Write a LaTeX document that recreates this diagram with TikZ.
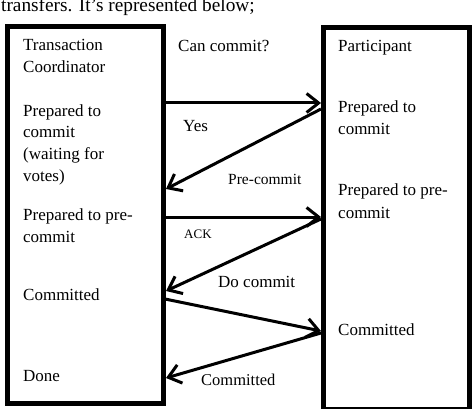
\documentclass[tikz,border=0pt]{standalone}
\usepackage{fontspec}
\setmainfont{Liberation Serif}
\usetikzlibrary{arrows.meta}

\begin{document}
\begin{tikzpicture}[x=1pt, y=-1pt,
	box/.style={line width=5pt},
	msg/.style={line width=3pt, -{Straight Barb[length=12pt, width=19pt, line width=3pt]}},
	txt/.style={anchor=base west, inner sep=0pt, align=left, font=\fontsize{17}{22}\selectfont}]
		%%%%% START %%%%%
		\useasboundingbox (0, 0) rectangle (474, 409);
		\node[anchor=base west, inner sep=0pt, font=\fontsize{19.3}{23}\selectfont] (intro) at (1, 12) {transfers. It's represented below;};
		
		% the two parties
		\draw[box] (7.5, 26.5) rectangle (163, 403);
		\draw[box] (323.5, 28) rectangle (469, 409);
		
		% (multi-line nodes sit on their last line)
		\node[txt] (tc) at (23, 73) {Transaction\\Coordinator};
		\node[txt] (tcprep) at (23, 182) {Prepared to\\commit\\(waiting for\\votes)};
		\node[txt] (tcpre) at (23, 242) {Prepared to pre-\\commit};
		\node[txt] (tccom) at (23, 300) {Committed};
		\node[txt] (tcdone) at (23, 381) {Done};
		
		\node[txt] (pt) at (338, 52) {Participant};
		\node[txt] (ptprep) at (338, 135) {Prepared to\\commit};
		\node[txt] (ptpre) at (338, 218) {Prepared to pre-\\commit};
		\node[txt] (ptcom) at (338, 335) {Committed};
		
		% messages
		\coordinate (tcA) at (165, 103);   \coordinate (ptA) at (321, 103);
		\coordinate (ptB) at (321, 109);   \coordinate (tcB) at (166, 189);
		\coordinate (tcC) at (165, 217);   \coordinate (ptC) at (321, 217);
		\coordinate (ptD) at (321, 219);   \coordinate (tcD) at (166, 291);
		\coordinate (tcE) at (165, 299);   \coordinate (ptE) at (321, 331);
		\coordinate (ptF) at (321, 333);   \coordinate (tcF) at (166, 378);
		
		\draw[msg] (tcA) -- (ptA);
		\draw[msg] (ptB) -- (tcB);
		\draw[msg] (tcC) -- (ptC);
		\draw[msg] (ptD) -- (tcD);
		\draw[msg] (tcE) -- (ptE);
		\draw[msg] (ptF) -- (tcF);
		
		\node[txt] (ask) at (178, 52) {Can commit?};
		\node[txt] (yes) at (183, 132) {Yes};
		\node[txt, font=\fontsize{15.5}{18}\selectfont] (precom) at (228, 185) {Pre-commit};
		\node[txt, font=\fontsize{13}{16}\selectfont] (ack) at (184, 238) {ACK};
		\node[txt] (docom) at (218, 287) {Do commit};
		\node[txt, font=\fontsize{16.5}{20}\selectfont] (done) at (201, 385) {Committed};
		%%%%% END %%%%%
	\end{tikzpicture}
\end{document}
